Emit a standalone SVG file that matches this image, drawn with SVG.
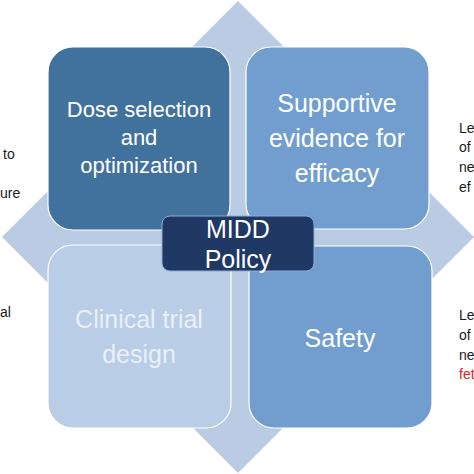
<svg xmlns="http://www.w3.org/2000/svg" width="474" height="474" viewBox="0 0 474 474">
<style>
.box{stroke:#ffffff;stroke-width:1.2}
.t{font-family:"Liberation Sans",Arial,sans-serif;fill:#ffffff;text-anchor:middle}
.side{font-family:"Liberation Sans",Arial,sans-serif;font-size:14px;fill:#1a1a1a}
</style>
<rect width="474" height="474" fill="#ffffff"/>
<g id="diamond">
<polygon points="238,1 474,237 238,473 2,237" fill="#B9CCE4"/>
</g>
<g id="side-text">
<text class="side" x="3" y="159">to</text>
<text class="side" x="0" y="198">ure</text>
<text class="side" x="0" y="317">al</text>
<text class="side" x="459" y="133">Le</text>
<text class="side" x="459" y="152">of</text>
<text class="side" x="459" y="172">ne</text>
<text class="side" x="459" y="192">ef</text>
<text class="side" x="459" y="320">Le</text>
<text class="side" x="459" y="340">of</text>
<text class="side" x="459" y="360">ne</text>
<text class="side" x="459" y="379" style="fill:#E0202A">fet</text>
</g>
<g id="connectors"></g>
<g id="dose">
<rect class="box" x="48" y="47" width="182" height="183" rx="25" fill="#41719D"/>
<text class="t" font-size="22" x="139" y="117">Dose selection</text>
<text class="t" font-size="22" x="139" y="145">and</text>
<text class="t" font-size="22" x="139" y="173">optimization</text>
</g>
<g id="efficacy">
<rect class="box" x="246" y="47" width="183" height="182" rx="25" fill="#719ECE"/>
<text class="t" font-size="25" x="337" y="112">Supportive</text>
<text class="t" font-size="25" x="337" y="147">evidence for</text>
<text class="t" font-size="25" x="337" y="182">efficacy</text>
</g>
<g id="trial">
<rect class="box" x="48" y="245" width="183" height="183" rx="25" fill="#B9CDE6"/>
<text class="t" font-size="25" x="139" y="328" style="fill:#EAF0F9">Clinical trial</text>
<text class="t" font-size="25" x="139" y="363" style="fill:#EAF0F9">design</text>
</g>
<g id="safety">
<rect class="box" x="249" y="246" width="183" height="182" rx="25" fill="#719ECE"/>
<text class="t" font-size="25" x="340" y="347">Safety</text>
</g>
<g id="midd">
<rect x="162" y="216" width="152" height="55" rx="8" fill="#1F3864" stroke="#8FAADC" stroke-width="1"/>
<text class="t" font-size="25" x="238" y="238">MIDD</text>
<text class="t" font-size="25" x="238" y="268">Policy</text>
</g>
</svg>
